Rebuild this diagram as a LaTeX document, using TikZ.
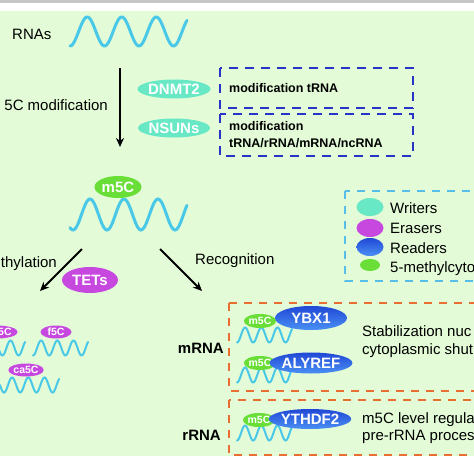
\documentclass[tikz,border=0pt]{standalone}
\usepackage{fontspec}
\setmainfont{Liberation Sans}
\usetikzlibrary{shapes.geometric,arrows.meta}
\usepackage{xcolor}

\definecolor{bggreen}{RGB}{227,252,215}
\definecolor{rnacyan}{RGB}{74,200,232}
\definecolor{writermint}{RGB}{104,232,196}
\definecolor{eraserpurple}{RGB}{198,72,222}
\definecolor{readertop}{RGB}{32,72,214}
\definecolor{readerbot}{RGB}{74,144,244}
\definecolor{mfivegreen}{RGB}{104,222,54}
\definecolor{boxblue}{RGB}{40,52,200}
\definecolor{boxorange}{RGB}{232,110,50}
\definecolor{boxcyan}{RGB}{86,190,232}

% #1 style, #2 x of first trough, #3 centre y, #4 period, #5 amplitude, #6 domain in periods
\newcommand{\rnawave}[6]{%
  \draw[#1] plot[domain=#6,samples=90,smooth] ({#2+#4*\x},{#3+#5*cos(360*\x)});}

\begin{document}
\begin{tikzpicture}[x=1pt,y=-1pt,
    wave/.style={draw=rnacyan,line width=3pt,line cap=round},
    thinwave/.style={draw=rnacyan,line width=2pt,line cap=round},
    blob/.style={ellipse,inner sep=0pt,text=white,font=\bfseries\fontsize{15}{15}\selectfont},
    smallblob/.style={blob,font=\bfseries\fontsize{10.5}{10.5}\selectfont,minimum width=31pt,minimum height=13pt},
    writer/.style={blob,fill=writermint},
    eraser/.style={blob,fill=eraserpurple},
    reader/.style={blob,top color=readertop,bottom color=readerbot},
    mfive/.style={blob,fill=mfivegreen},
    txt/.style={inner sep=0pt,font=\fontsize{15}{17}\selectfont},
    boldtxt/.style={inner sep=0pt,font=\bfseries\fontsize{15}{17}\selectfont},
    boxtxt/.style={inner sep=0pt,font=\bfseries\fontsize{12.5}{14}\selectfont},
    dashbox/.style={line width=2pt,dash pattern=on 9pt off 7pt},
    flow/.style={line width=2pt,-{Stealth[length=9pt,width=8pt]}}]
  \useasboundingbox (0,0) rectangle (474,474);
  \clip (0,0) rectangle (474,474);
  \fill[gray!45] (0,0) rectangle (474,2.5);
  \fill[bggreen] (0,11) rectangle (474,456);

  % writers
  \node[txt,anchor=base west] (rnas) at (12,39) {RNAs};
  \rnawave{wave}{70}{31.5}{34.5}{14.5}{0:3.39}
  \coordinate (downA) at (120,68);
  \coordinate (downB) at (120,147);
  \draw[flow] (downA) -- (downB);
  \node[txt,anchor=base east] (modif) at (108,110) {5C modification};
  \node[writer,minimum width=72pt,minimum height=19pt] (dnmt) at (174,89) {DNMT2};
  \node[writer,minimum width=72pt,minimum height=19pt] (nsuns) at (174,128) {NSUNs};
  \draw[dashbox,boxblue] (220,68) rectangle (413,108);
  \draw[dashbox,boxblue] (220,114) rectangle (413,156);
  \node[boxtxt,anchor=base west] (trna) at (229,92) {modification tRNA};
  \node[boxtxt,anchor=base west] (allA) at (229,130) {modification};
  \node[boxtxt,anchor=base west] (allB) at (229,147) {tRNA/rRNA/mRNA/ncRNA};

  % m5C
  \rnawave{wave}{73}{214.5}{34}{15.5}{-0.09:3.35}
  \node[mfive,minimum width=47pt,minimum height=22pt] (mfive) at (118,187) {m5C};

  % erasers
  \coordinate (demA) at (82,249);
  \coordinate (demB) at (40,291);
  \draw[flow] (demA) -- (demB);
  \node[txt,anchor=base east] (demeth) at (57,267) {thylation};
  \node[eraser,minimum width=56pt,minimum height=26pt] (tets) at (90,280) {TETs};
  \rnawave{thinwave}{-30}{348}{16.2}{7.5}{0:3.4}
  \rnawave{thinwave}{33}{348}{16.2}{7.5}{0:3.4}
  \rnawave{thinwave}{4}{385}{16.2}{7.5}{-0.25:3.4}
  \node[eraser,smallblob,minimum width=36pt] (hmfive) at (-3,332) {\phantom{hm}5C};
  \node[eraser,smallblob] (ffive) at (56,332) {f5C};
  \node[eraser,smallblob,minimum width=33pt] (cafive) at (26,370) {ca5C};

  % readers
  \coordinate (recA) at (160,249);
  \coordinate (recB) at (202,291);
  \draw[flow] (recA) -- (recB);
  \node[txt,anchor=base west] (recog) at (195,264) {Recognition};

  % legend
  \draw[dashbox,boxcyan,dash pattern=on 8pt off 7pt] (345,191) rectangle (490,281);
  \node[writer,minimum width=27pt,minimum height=18pt] (lgw) at (370,207) {};
  \node[eraser,minimum width=27pt,minimum height=18pt] (lge) at (370,228) {};
  \node[reader,minimum width=27pt,minimum height=18pt] (lgr) at (370,247) {};
  \node[mfive,minimum width=20pt,minimum height=12pt] (lgm) at (370,265) {};
  \node[txt,anchor=base west] at (390,213) {Writers};
  \node[txt,anchor=base west] at (390,233) {Erasers};
  \node[txt,anchor=base west] at (390,253) {Readers};
  \node[txt,anchor=base west] at (390,272) {5-methylcyto};

  % mRNA and rRNA
  \draw[dashbox,boxorange,dash pattern=on 8pt off 7pt] (229,303) rectangle (490,391);
  \draw[dashbox,boxorange,dash pattern=on 8pt off 7pt] (229,400) rectangle (490,455);
  \node[boldtxt,anchor=base east] (mrna) at (224,353) {mRNA};
  \node[boldtxt,anchor=base east] (rrna) at (221,440) {rRNA};
  \rnawave{thinwave}{237}{335}{16.2}{7.5}{0:3.4}
  \rnawave{thinwave}{237}{375}{16.2}{7.5}{0:3.4}
  \rnawave{thinwave}{237}{433}{16.2}{7.5}{0:3.4}
  \node[mfive,smallblob,minimum width=31pt,minimum height=14pt] (mfiveA) at (260,321) {m5C};
  \node[reader,minimum width=72pt,minimum height=24pt] (ybx) at (311,318) {YBX1};
  \node[mfive,smallblob,minimum width=31pt,minimum height=14pt] (mfiveB) at (260,363) {m5C};
  \node[reader,minimum width=72pt,minimum height=21pt] (alyref) at (311,363) {ALYREF};
  \node[mfive,smallblob,minimum width=31pt,minimum height=14pt] (mfiveC) at (259,420) {m5C};
  \node[reader,minimum width=70pt,minimum height=20pt] (ythdf) at (310,419) {YTHDF2};
  \node[txt,anchor=base west] at (362,336) {Stabilization nuc};
  \node[txt,anchor=base west] at (362,354) {cytoplasmic shut};
  \node[txt,anchor=base west] at (362,423) {m5C level regula};
  \node[txt,anchor=base west] at (362,440) {pre-rRNA proces};
\end{tikzpicture}
\end{document}
